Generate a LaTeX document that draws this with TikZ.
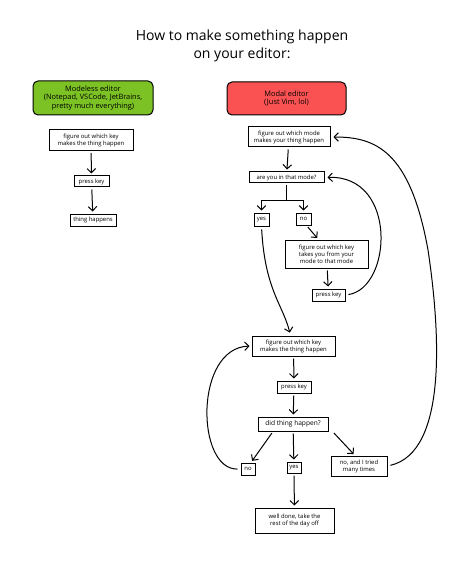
\documentclass[tikz,border=0pt]{standalone}
\usepackage{fontspec}
\setmainfont{Open Sans}
\usetikzlibrary{arrows.meta}
\definecolor{modeless}{HTML}{7CC225}
\definecolor{modal}{HTML}{FA5252}
\newcommand{\tinytxt}{\fontsize{5.9}{7}\selectfont}

\begin{document}
\begin{tikzpicture}[x=1pt, y=-1pt, line width=1pt, >={Straight Barb[length=4.2pt,width=8.5pt]},
		box/.style={draw, align=center, inner sep=1pt, font=\tinytxt},
		head/.style={draw, rounded corners=5pt, align=center, inner sep=1pt, font=\fontsize{7.4}{8.6}\selectfont},
		arr/.style={->, shorten <=2pt, shorten >=2pt}]
			\useasboundingbox (0,0) rectangle (474,569);

			% Title
			\node[align=center, font=\fontsize{14}{18}\selectfont] (title) at (242,46) {How to make something happen\\on your editor:};

			% Modeless side
			\node[head, fill=modeless, minimum width=120pt, minimum height=34pt] (modeless) at (93,98) {Modeless editor\\(Notepad, VSCode, JetBrains,\\pretty much everything)};
			\node[box, minimum width=84pt, minimum height=21pt] (lkey) at (91,140) {figure out which key\\makes the thing happen};
			\node[box, minimum width=35pt, minimum height=11pt] (lpress) at (91.5,181.5) {press key};
			\node[box, minimum width=46pt, minimum height=12pt] (lhappen) at (93,220) {thing happens};

			\draw[arr] (lkey) -- (lpress);
			\draw[arr] (lpress) -- (lhappen);

			% Modal side
			\node[head, fill=modal, minimum width=119pt, minimum height=33pt] (modal) at (286.5,98.5) {Modal editor\\(Just Vim, lol)};
			\node[box, minimum width=82pt, minimum height=20pt] (mode) at (289,137) {figure out which mode\\makes your thing happen};
			\node[box, minimum width=75pt, minimum height=11pt] (inmode) at (286.5,177.5) {are you in that mode?};
			\node[box, minimum width=15pt, minimum height=13pt] (myes) at (261.5,219.5) {yes};
			\node[box, minimum width=15pt, minimum height=12pt] (mno) at (303.5,219) {no};
			\node[box, minimum width=83pt, minimum height=28pt] (tokey) at (326.5,254) {figure out which key\\takes you from your\\mode to that mode};
			\node[box, minimum width=33pt, minimum height=12pt] (mpress) at (328.5,295) {press key};
			\coordinate (split) at (286.5,200);

			\draw[arr] (mode) -- (inmode);
			\draw[shorten <=2pt] (inmode) -- (split);
			\draw[->, shorten >=2pt] (split) -| (myes);
			\draw[->, shorten >=2pt] (split) -| (mno);
			\draw[arr] ([xshift=3pt]mno.south) -- ([xshift=-8pt]tokey.north);
			\draw[arr] (tokey) -- (mpress);
			\draw[->, shorten <=3pt, shorten >=3pt] (mpress.east) .. controls (392,288) and (398,175) .. (inmode.east);

			% After the mode is right
			\node[box, minimum width=83pt, minimum height=20pt] (bkey) at (293.5,346) {figure out which key\\makes the thing happen};
			\node[box, minimum width=34pt, minimum height=12pt] (bpress) at (294,387) {press key};
			\node[box, minimum width=70pt, minimum height=14pt, font=\fontsize{6.6}{7.6}\selectfont] (did) at (293,424) {did thing happen?};
			\node[box, minimum width=14pt, minimum height=12pt] (bno) at (248,469) {no};
			\node[box, minimum width=14pt, minimum height=11pt] (byes) at (294,467.5) {yes};
			\node[box, minimum width=56pt, minimum height=20pt] (tried) at (359,466) {no, and I tried\\many times};
			\node[box, minimum width=79pt, minimum height=25pt] (done) at (294.5,520.5) {well done, take the\\rest of the day off};

			\draw[->, shorten <=3pt, shorten >=3pt] (myes.south) .. controls (265,290) and (283,305) .. ([xshift=-3pt]bkey.north);
			\draw[arr] (bkey) -- (bpress);
			\draw[arr] (bpress) -- (did);
			\draw[arr] ([xshift=-20pt]did.south) -- ([xshift=3pt]bno.north);
			\draw[arr] (did) -- (byes);
			\draw[arr] ([xshift=4pt]did.south east) -- ([xshift=-4pt]tried.north);
			\draw[arr] (byes) -- (done);

			% Loops back
			\draw[->, shorten <=3pt, shorten >=2pt] (bno.west) .. controls (196,470) and (194,348) .. (bkey.west);
			\draw[->, shorten <=3pt, shorten >=3pt] (tried.east) .. controls (448,452) and (440,330) .. (428,250)
				.. controls (410,150) and (375,137) .. (mode.east);
		\end{tikzpicture}
\end{document}
